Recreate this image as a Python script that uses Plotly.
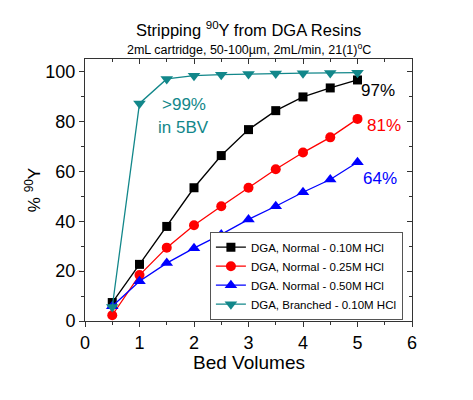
import plotly.graph_objects as go

bed_volumes = [0.5, 1.0, 1.5, 2.0, 2.5, 3.0, 3.5, 4.0, 4.5, 5.0]

normal_010 = [7.4, 22.7, 37.9, 53.4, 66.3, 76.7, 84.3, 89.8, 93.4, 96.6]
normal_025 = [2.3, 18.4, 29.4, 38.4, 46.0, 53.4, 60.8, 67.5, 73.6, 81.0]
normal_050 = [5.9, 15.9, 23.2, 29.2, 34.7, 40.7, 46.0, 51.6, 56.7, 63.6]
branched_010 = [5.6, 87.2, 97.0, 98.3, 98.7, 99.0, 99.2, 99.3, 99.4, 99.5]

series_names = ["DGA, Normal - 0.10M HCl", "DGA, Normal - 0.25M HCl",
                "DGA. Normal - 0.50M HCl", "DGA, Branched - 0.10M HCl"]

FONT = "Liberation Sans, Arial, sans-serif"
TEAL = "#12878a"

fig = go.Figure()

styles = [
    (normal_010, "black", "square", 9),
    (normal_025, "red", "circle", 10),
    (normal_050, "blue", "triangle-up", 11),
    (branched_010, TEAL, "triangle-down", 11),
]
for name, (vals, col, sym, sz) in zip(series_names, styles):
    fig.add_trace(go.Scatter(
        x=bed_volumes, y=vals, name=name, mode="lines+markers",
        line=dict(color=col, width=1.3),
        marker=dict(color=col, symbol=sym, size=sz),
    ))

# end labels
labels = [("97%", 5.38, 92.3, "black"), ("81%", 5.48, 78.3, "red"),
          ("64%", 5.42, 57.1, "blue"), (">99%", 1.82, 86.7, TEAL),
          ("in 5BV", 1.8, 77.5, TEAL)]
for txt, lx, ly, col in labels:
    fig.add_annotation(x=lx, y=ly, text=txt, showarrow=False,
                       font=dict(family=FONT, size=17, color=col))

# titles
fig.add_annotation(xref="paper", yref="paper", x=0.5, y=1.0, yshift=30, yanchor="middle",
                   text="Stripping <sup>90</sup>Y from DGA Resins", showarrow=False,
                   font=dict(family=FONT, size=16.5, color="black"))
fig.add_annotation(xref="paper", yref="paper", x=0.5, y=1.0, yshift=10, yanchor="middle",
                   text="2mL cartridge, 50-100µm, 2mL/min, 21(1)<sup>o</sup>C", showarrow=False,
                   font=dict(family=FONT, size=12.5, color="black"))
fig.add_annotation(xref="paper", yref="paper", x=0.5, y=0.0, yshift=-41, yanchor="middle",
                   text="Bed Volumes", showarrow=False,
                   font=dict(family=FONT, size=19, color="black"))

axis_common = dict(showgrid=False, zeroline=False, showline=True, linecolor="#333",
                   linewidth=1, tickcolor="#333", ticklen=5,
                   tickfont=dict(family=FONT, size=18, color="black"))

fig.update_layout(
    width=473, height=400,
    margin=dict(l=77, r=69, t=51, b=87),
    plot_bgcolor="white", paper_bgcolor="white",
    xaxis=dict(range=[0, 6], dtick=1, ticks="outside",
               minor=dict(dtick=0.5, ticks="outside", ticklen=3, tickcolor="#333"),
               **axis_common),
    yaxis=dict(range=[0, 105], tickvals=[0, 20, 40, 60, 80, 100], ticks="outside",
               minor=dict(tickvals=[10, 30, 50, 70, 90], ticks="outside", ticklen=3,
                          tickcolor="#333"),
               title=dict(text="% <sup>90</sup>Y", font=dict(family=FONT, size=17, color="black"),
                          standoff=0),
               **axis_common),
    xaxis2=dict(overlaying="x", side="top", anchor="y", range=[0, 6], dtick=1,
                ticks="inside", showticklabels=False, showgrid=False, zeroline=False,
                showline=True, linecolor="#333", tickcolor="#333", ticklen=5,
                minor=dict(dtick=0.5, ticks="inside", ticklen=3, tickcolor="#333")),
    yaxis2=dict(overlaying="y", side="right", anchor="x", range=[0, 105],
                tickvals=[0, 20, 40, 60, 80, 100], ticks="inside", showticklabels=False,
                showgrid=False, zeroline=False, showline=True, linecolor="#333",
                tickcolor="#333", ticklen=5,
                minor=dict(tickvals=[10, 30, 50, 70, 90], ticks="inside", ticklen=3,
                           tickcolor="#333")),
    legend=dict(x=0.382, y=0.005, xanchor="left", yanchor="bottom",
                bgcolor="white", bordercolor="#555", borderwidth=1,
                font=dict(family=FONT, size=11.5, color="black"),
                tracegroupgap=0, itemwidth=30),
    showlegend=True,
)

fig.add_trace(go.Scatter(x=[], y=[], xaxis="x2", yaxis="y2", showlegend=False,
                         hoverinfo="skip"))

fig.write_html("out.html")
